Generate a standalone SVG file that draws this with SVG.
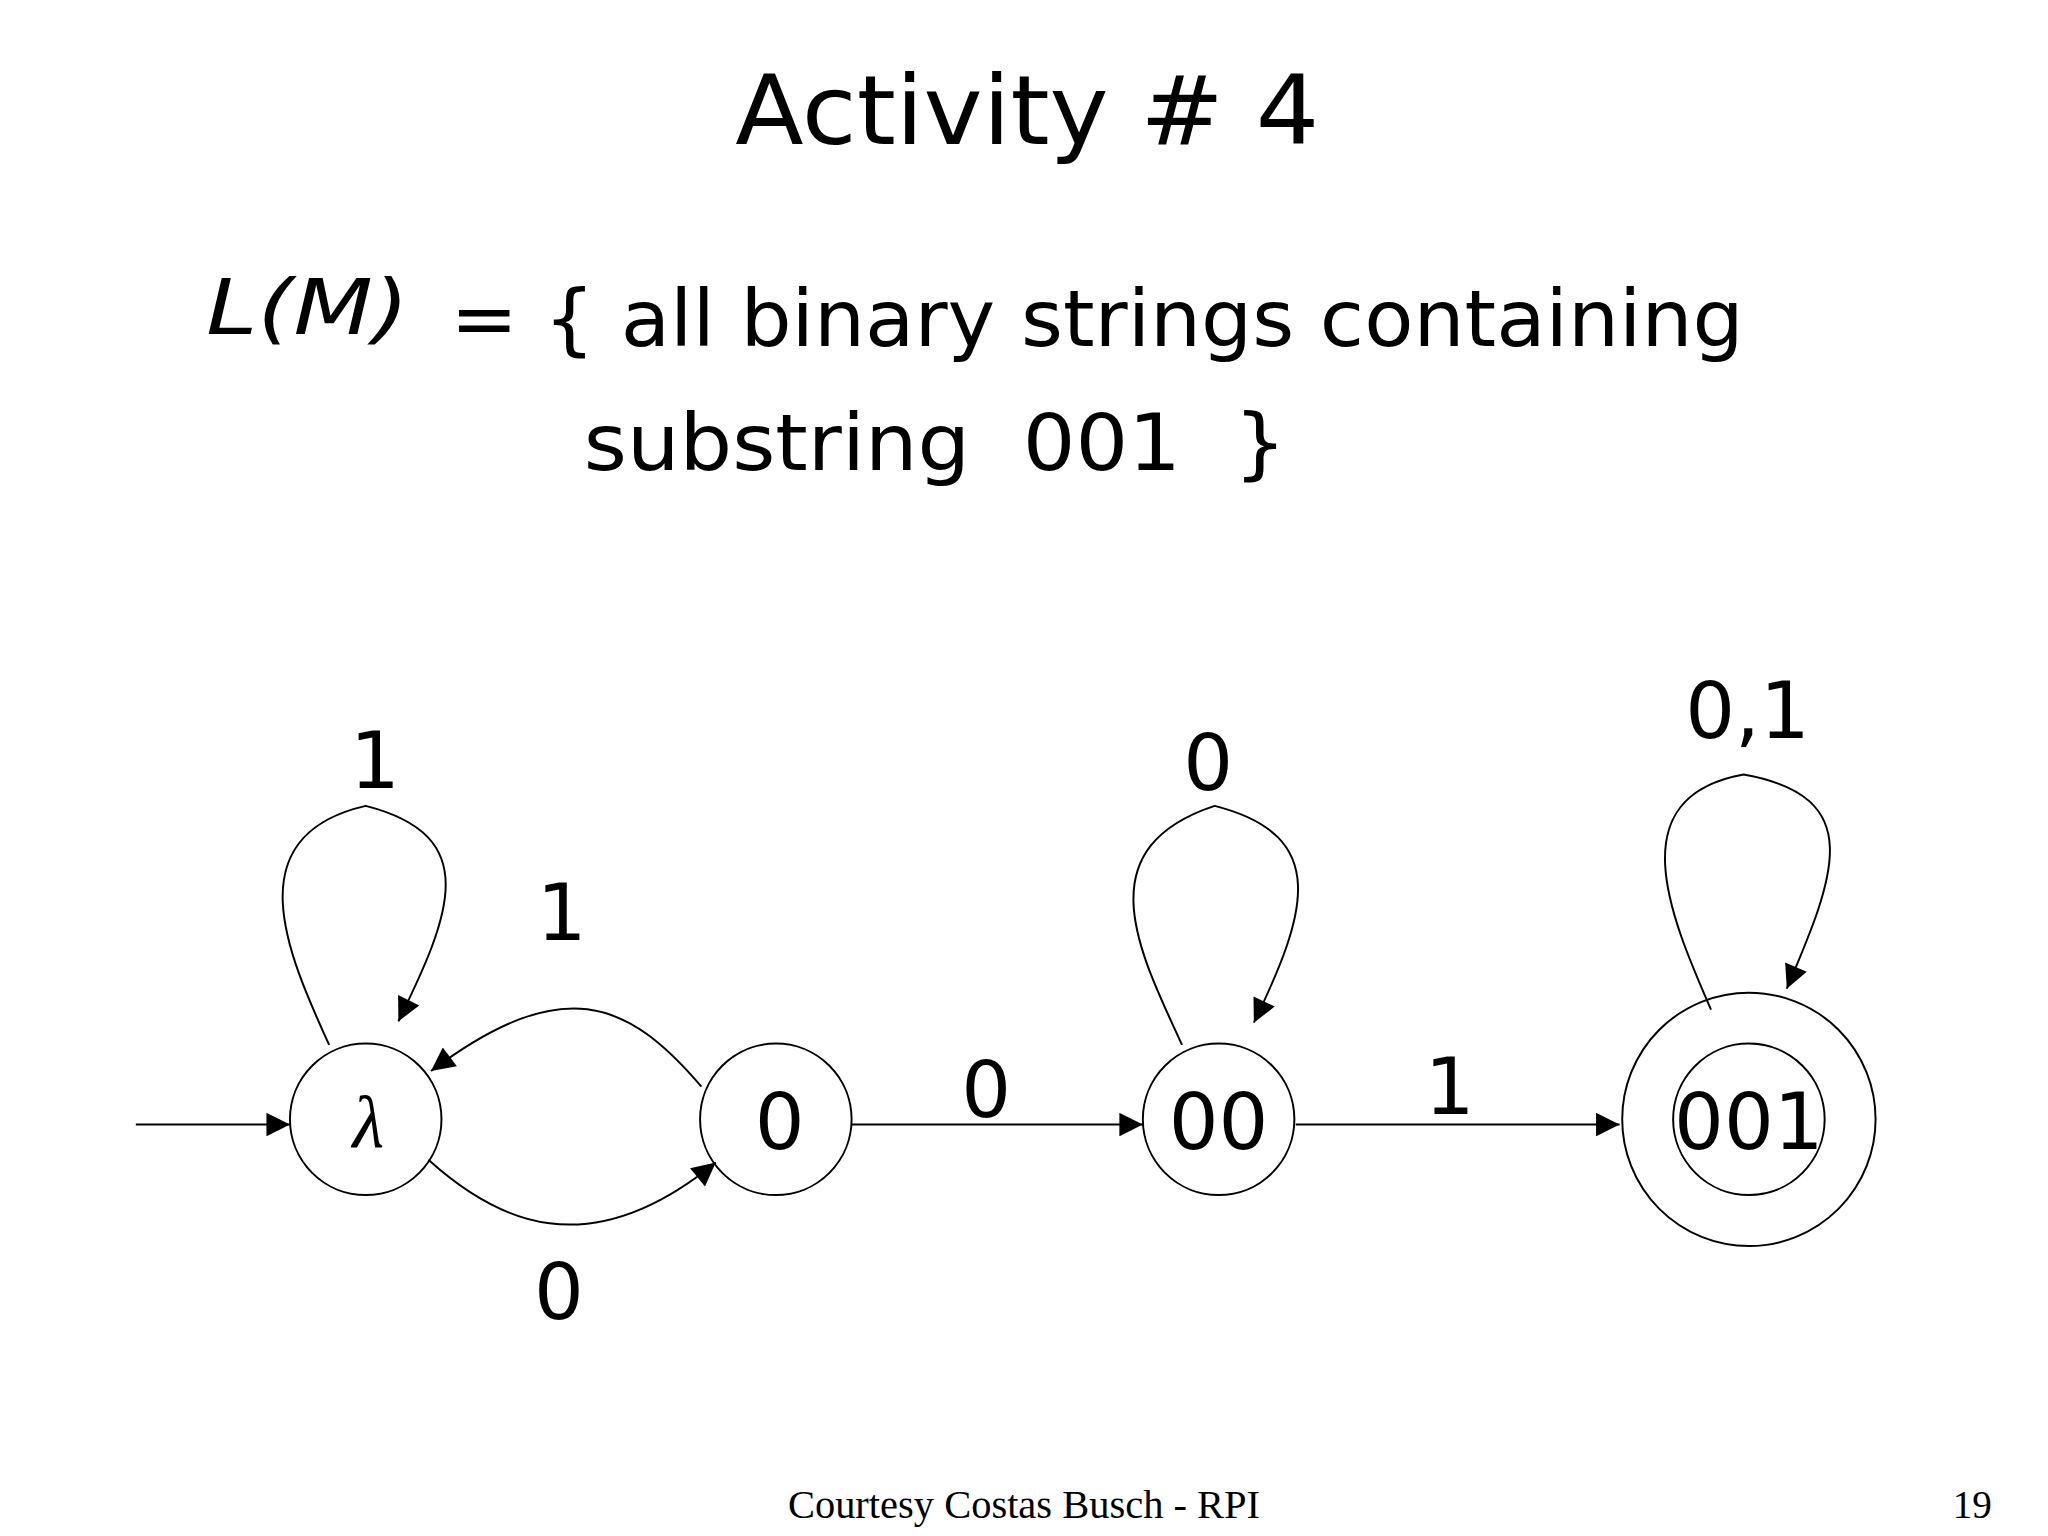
<svg xmlns="http://www.w3.org/2000/svg" width="2048" height="1536" viewBox="0 0 2048 1536">
<style>
.t{font-family:"DejaVu Sans","Noto Sans",sans-serif;fill:#000}
.c{fill:none;stroke:#000;stroke-width:1.5}
.e{fill:none;stroke:#000;stroke-width:1.5;marker-end:url(#a)}
</style>
<defs><marker id="a" viewBox="0 0 10 10" refX="10" refY="5" markerWidth="20" markerHeight="18" markerUnits="userSpaceOnUse" orient="auto"><path d="M0,0L10,5L0,10z"/></marker></defs>
<rect width="2048" height="1536" fill="#fff"/>
<g transform="scale(1.30612)">
<text class="t" x="563" y="110" font-size="74" textLength="447" lengthAdjust="spacingAndGlyphs">Activity # 4</text>
<text class="t" x="158" y="256" font-size="58" font-style="italic" textLength="155" lengthAdjust="spacingAndGlyphs">L(M)</text>
<text class="t" x="345" y="265" font-size="60" textLength="990" lengthAdjust="spacingAndGlyphs">= { all binary strings containing</text>
<text class="t" x="447" y="360" font-size="60" xml:space="preserve" textLength="538" lengthAdjust="spacingAndGlyphs">substring  001  }</text>
<g id="edges">
<path class="e" d="M104,861L222,861"/>
<path class="e" d="M652,861L875,861"/>
<path class="e" d="M992,861L1240,861"/>
<path class="e" d="M328,888C380,935 450,970 548,890"/>
<path class="e" d="M537,832C480,765 430,745 330,820"/>
<path class="e" d="M252,800C220,730 180,640 280,617C370,640 345,700 305,782"/>
<path class="e" d="M905,800C873,730 830,650 930,617C1020,640 1000,700 960,783"/>
<path class="e" d="M1310,773C1278,700 1240,610 1335,593C1430,610 1405,670 1368,757"/>
<text class="t" x="755" y="855" font-size="60" text-anchor="middle">0</text>
<text class="t" x="1110" y="853" font-size="60" text-anchor="middle">1</text>
<text class="t" x="428" y="1010" font-size="60" text-anchor="middle">0</text>
<text class="t" x="430" y="720" font-size="60" text-anchor="middle">1</text>
<text class="t" x="287" y="603" font-size="60" text-anchor="middle">1</text>
<text class="t" x="925" y="605" font-size="60" text-anchor="middle">0</text>
<text class="t" x="1338" y="565" font-size="60" text-anchor="middle">0,1</text>
</g>
<g id="q0"><circle class="c" cx="280" cy="857" r="58"/><text x="282" y="878" font-size="56" font-family="Liberation Serif,serif" font-style="italic" text-anchor="middle">λ</text></g>
<g id="q1"><circle class="c" cx="594" cy="857" r="58"/><text class="t" x="597" y="880" font-size="60" text-anchor="middle">0</text></g>
<g id="q2"><circle class="c" cx="933" cy="857" r="58"/><text class="t" x="933" y="880" font-size="60" text-anchor="middle">00</text></g>
<g id="q3"><circle class="c" cx="1339" cy="857" r="97"/><circle class="c" cx="1339" cy="857" r="58"/><text class="t" x="1339" y="880" font-size="60" text-anchor="middle">001</text></g>
<text x="784" y="1162" font-size="31" font-family="Liberation Serif,serif" text-anchor="middle">Courtesy Costas Busch - RPI</text>
<text x="1510" y="1162" font-size="30" font-family="Liberation Serif,serif" text-anchor="middle">19</text>
</g>
</svg>
